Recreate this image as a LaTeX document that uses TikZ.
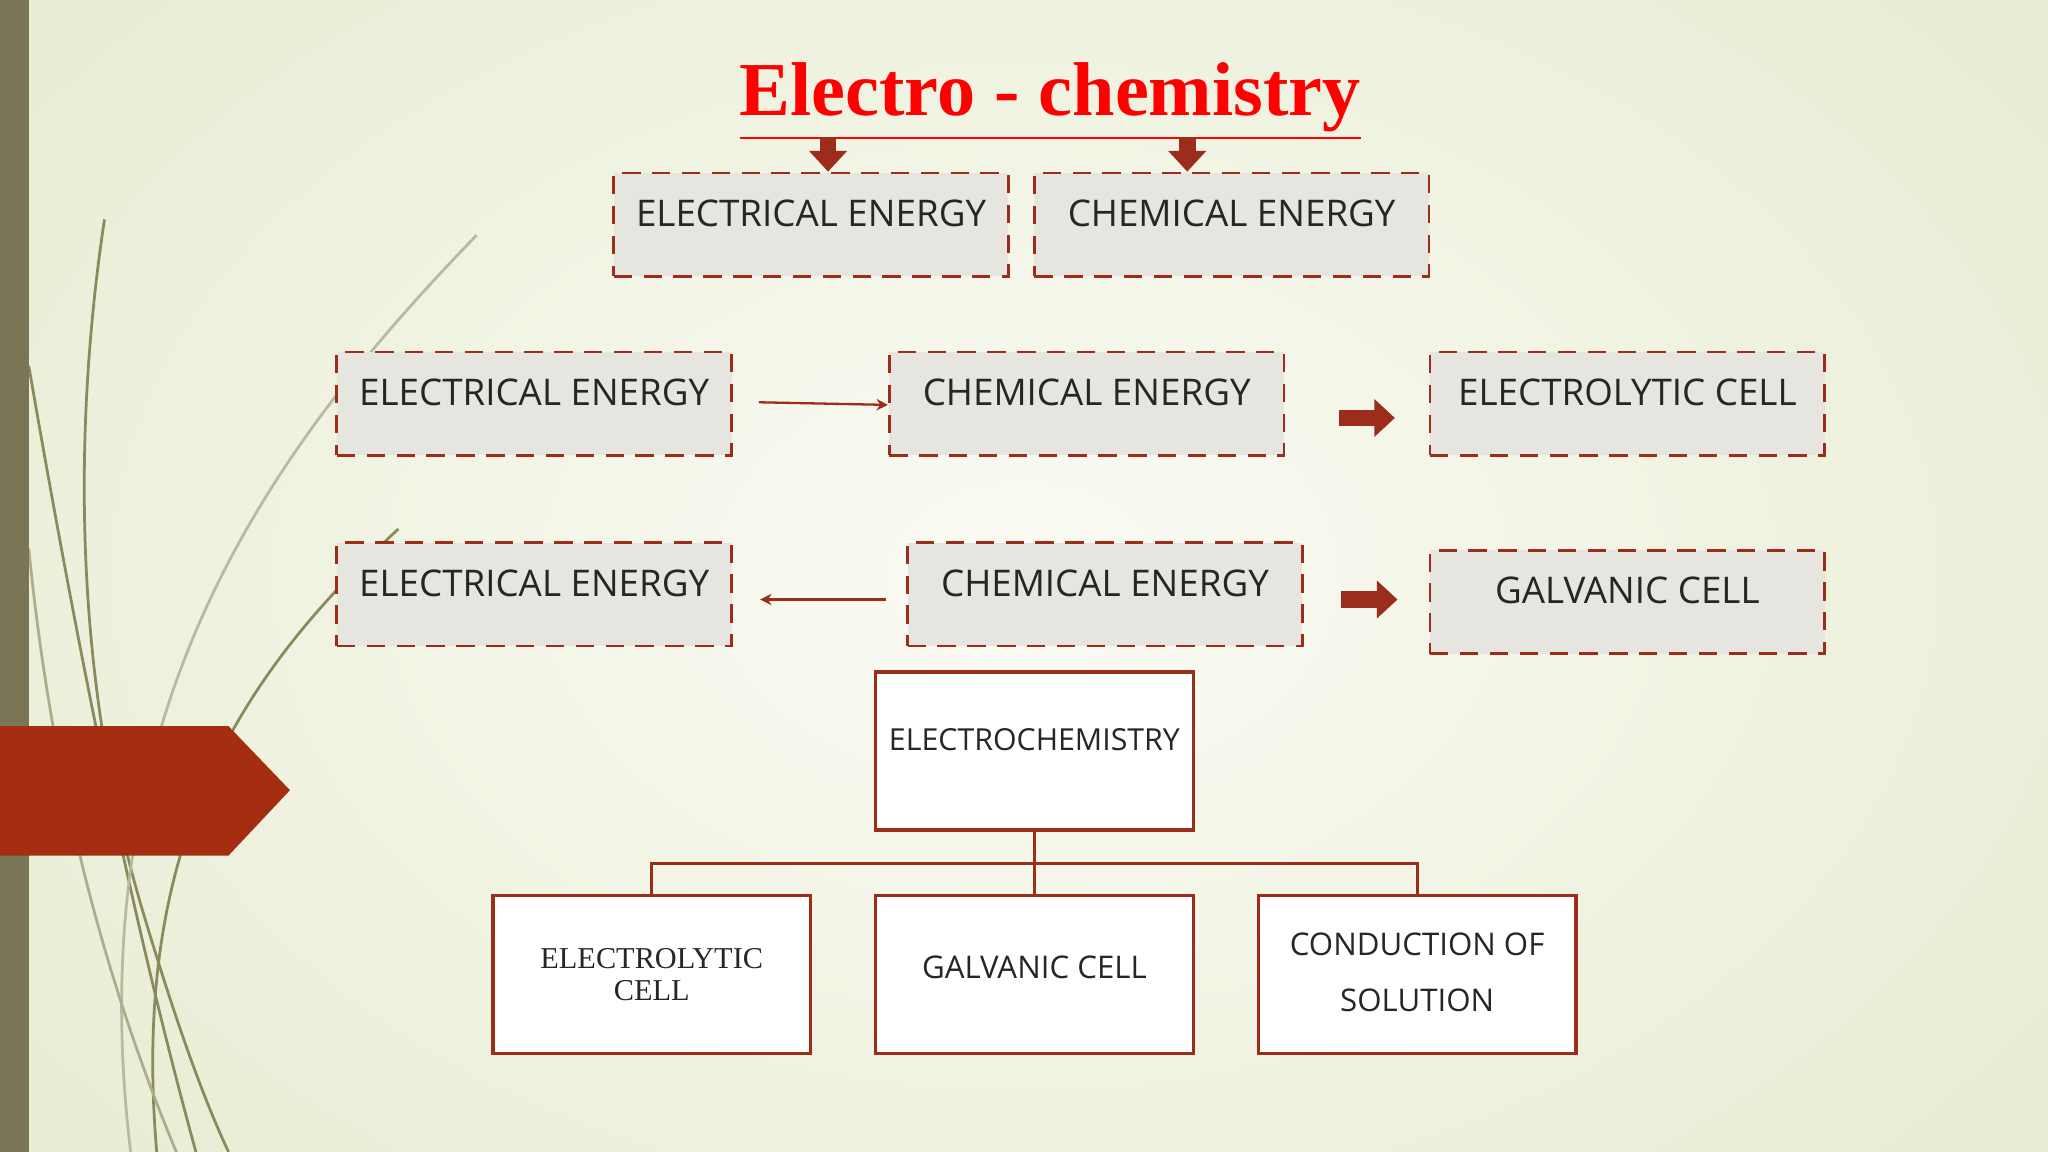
\documentclass[tikz,border=0pt]{standalone}
\usepackage{fontspec}
\setmainfont{Open Sans}
\newfontfamily\serifx{Liberation Serif}
\usetikzlibrary{arrows.meta}
\definecolor{bgout}{HTML}{E6EBCF}
\definecolor{bgin}{HTML}{FBFBF5}
\definecolor{strip}{HTML}{7A7556}
\definecolor{rust}{HTML}{A52D12}
\definecolor{dred}{HTML}{9B2D1A}
\definecolor{boxfill}{HTML}{E6E5E0}
\definecolor{grass}{HTML}{8A8A5C}
\tikzset{
  dbox/.style={draw=dred, fill=boxfill, dashed, dash pattern=on 4pt off 2.5pt, line width=0.6pt, minimum width=3.02cm, minimum height=0.79cm, inner sep=0pt, font=\fontsize{8}{9}\selectfont, text=black!85},
  sbox/.style={draw=dred, fill=white, line width=0.7pt, minimum width=2.43cm, minimum height=1.21cm, inner sep=0pt, align=center, font=\fontsize{6.6}{10}\selectfont, text=black!85},
  blk/.style={draw=dred, line width=3.6pt, -{Triangle[length=4.5pt,width=8pt]}},
  thin/.style={draw=dred, line width=0.5pt, -{Stealth[length=2.5pt,width=2.5pt]}},
  tree/.style={draw=dred, line width=0.6pt},
  gr/.style={draw=grass, line width=0.6pt}
}
\begin{document}
\begin{tikzpicture}[x=0.01cm,y=-0.01cm]
\useasboundingbox (0,0) rectangle (1568,882);
\shade[inner color=bgin, outer color=bgout] (-300,-300) rectangle (1868,1182);
% grass lines
\draw[gr] (80,168) .. controls (60,300) and (50,500) .. (110,700) .. controls (140,800) and (160,850) .. (175,882);
\draw[gr] (22,280) .. controls (60,500) and (100,700) .. (150,882);
\draw[gr, draw=grass!60] (365,180) .. controls (200,350) and (60,550) .. (100,882);
\draw[gr] (305,405) .. controls (180,520) and (100,650) .. (120,882);
\draw[gr, draw=grass!70] (22,420) .. controls (40,600) and (80,750) .. (135,882);
% strip and tab
\fill[strip] (0,0) rectangle (22,882);
\fill[rust] (0,556) -- (175,556) -- (222,605) -- (175,655) -- (0,655) -- cycle;
% title
\node (title) at (804,78) {\serifx\bfseries\fontsize{16.6}{20}\selectfont\color{red}\underline{Electro - chemistry}};
\coordinate (t1) at (634,105); \coordinate (t2) at (909,105);
% row0
\node[dbox] (e0) at (621,172) {\raisebox{5pt}{ELECTRICAL ENERGY}};
\node[dbox] (c0) at (943,172) {\raisebox{5pt}{CHEMICAL ENERGY}};
\draw[blk] (t1) -- (e0.north -| t1);
\draw[blk] (t2) -- (c0.north -| t2);
% row1
\node[dbox] (e1) at (409,309) {\raisebox{5pt}{ELECTRICAL ENERGY}};
\node[dbox] (c1) at (832,309) {\raisebox{5pt}{CHEMICAL ENERGY}};
\node[dbox] (l1) at (1246,309) {\raisebox{5pt}{ELECTROLYTIC CELL}};
\draw[thin] (581,308) -- (c1.west |- 0,310);
\coordinate (a1s) at (1025,320); \coordinate (a1e) at (1068,320);
\draw[blk] (a1s) -- (a1e);
% row2
\node[dbox] (e2) at (409,455) {\raisebox{5pt}{ELECTRICAL ENERGY}};
\node[dbox] (c2) at (846,455) {\raisebox{5pt}{CHEMICAL ENERGY}};
\node[dbox] (g2) at (1246,461) {\raisebox{5pt}{GALVANIC CELL}};
\coordinate (a2s) at (678,459);
\draw[thin] (a2s) -- (582,459);
\coordinate (a3s) at (1027,459); \coordinate (a3e) at (1070,459);
\draw[blk] (a3s) -- (a3e);
% tree
\node[sbox] (ec) at (792,575) {\raisebox{5pt}{ELECTROCHEMISTRY}};
\node[sbox] (b1) at (499,746) {\serifx ELECTROLYTIC\\[-3pt]\serifx CELL};
\node[sbox] (b2) at (792,746) {\fontsize{6.8}{10}\selectfont\raisebox{3pt}{GALVANIC CELL}};
\node[sbox] (b3) at (1085,746) {\raisebox{4pt}{\begin{tabular}{@{}c@{}}\fontsize{6.8}{10}\selectfont CONDUCTION OF\\[2pt]\fontsize{6.8}{10}\selectfont SOLUTION\end{tabular}}};
\coordinate (j) at (792,661);
\draw[tree] (ec.south) -- (j) -- (b2.north);
\draw[tree] (b1.north) -- (b1.north |- j) -- (b3.north |- j) -- (b3.north);
\end{tikzpicture}
\end{document}
